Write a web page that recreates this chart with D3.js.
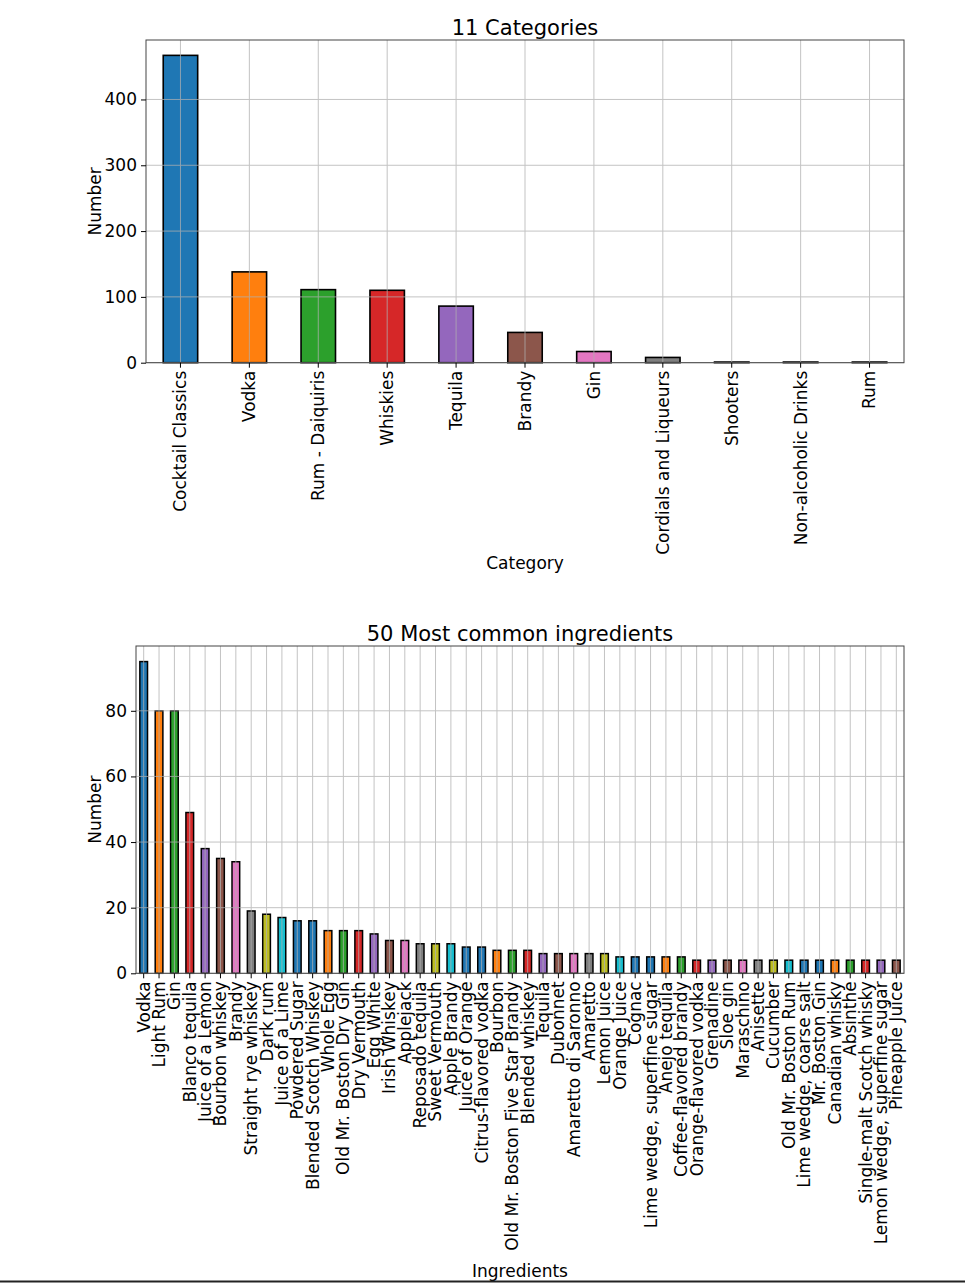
<!DOCTYPE html>
<html lang="en">
<head>
<meta charset="UTF-8">
<title>Cocktail categories and ingredients</title>
<script src="https://d3js.org/d3.v7.min.js"></script>
<style>
  body { margin: 0; background: white; }
  text { font-family: "DejaVu Sans", sans-serif; fill: black; }
</style>
</head>
<body>
<div id="chart"></div>
<script>
// data
var categories = ["Cocktail Classics", "Vodka", "Rum - Daiquiris", "Whiskies", "Tequila", "Brandy",
                  "Gin", "Cordials and Liqueurs", "Shooters", "Non-alcoholic Drinks", "Rum"];
var categoryCounts = [467, 138, 111, 110, 86, 46, 17, 8, 1, 1, 1];
var categoryTicks = [0, 100, 200, 300, 400];

var ingredients = ["Vodka", "Light Rum", "Gin", "Blanco tequila", "Juice of a Lemon", "Bourbon whiskey",
  "Brandy", "Straight rye whiskey", "Dark rum", "Juice of a Lime", "Powdered Sugar", "Blended Scotch Whiskey",
  "Whole Egg", "Old Mr. Boston Dry Gin", "Dry Vermouth", "Egg White", "Irish Whiskey", "Applejack",
  "Reposado tequila", "Sweet Vermouth", "Apple Brandy", "Juice of Orange", "Citrus-flavored vodka", "Bourbon",
  "Old Mr. Boston Five Star Brandy", "Blended whiskey", "Tequila", "Dubonnet", "Amaretto di Saronno", "Amaretto",
  "Lemon Juice", "Orange Juice", "Cognac", "Lime wedge, superfine sugar", "Anejo tequila", "Coffee-flavored brandy",
  "Orange-flavored vodka", "Grenadine", "Sloe gin", "Maraschino", "Anisette", "Cucumber", "Old Mr. Boston Rum",
  "Lime wedge, coarse salt", "Mr. Boston Gin", "Canadian whisky", "Absinthe", "Single-malt Scotch whisky",
  "Lemon wedge, superfine sugar", "Pineapple Juice"];
var ingredientCounts = [95, 80, 80, 49, 38, 35, 34, 19, 18, 17, 16, 16, 13, 13, 13, 12, 10, 10, 9, 9,
  9, 8, 8, 7, 7, 7, 6, 6, 6, 6, 6, 5, 5, 5, 5, 5, 4, 4, 4, 4,
  4, 4, 4, 4, 4, 4, 4, 4, 4, 4];
var ingredientTicks = [0, 20, 40, 60, 80];

// 11 colour cycle (the bars repeat every 11)
var palette = ["#1f77b4", "#ff7f0e", "#2ca02c", "#d62728", "#9467bd", "#8c564b",
               "#e377c2", "#7f7f7f", "#bcbd22", "#17becf", "#1f77b4"];

var svg = d3.select("#chart").append("svg").attr("width", 965).attr("height", 1283);

drawBarChart({
  names: categories, values: categoryCounts, ticks: categoryTicks,
  left: 146, right: 904, top: 40, bottom: 362.7,
  title: "11 Categories", titleY: 35,
  xlabel: "Category", xlabelY: 569, ylabelX: 101, stroke: 1.6
});

drawBarChart({
  names: ingredients, values: ingredientCounts, ticks: ingredientTicks,
  left: 136, right: 904, top: 646, bottom: 973.3,
  title: "50 Most common ingredients", titleY: 641,
  xlabel: "Ingredients", xlabelY: 1277, ylabelX: 101, stroke: 1.5
});

// dark edge along the bottom of the picture
svg.append("line").attr("x1", 0).attr("x2", 965).attr("y1", 1281.5).attr("y2", 1281.5)
  .attr("stroke", "#222").attr("stroke-width", 2);

function drawBarChart(c) {
  var g = svg.append("g");

  var x = d3.scaleBand().domain(c.names).range([c.left, c.right])
    .paddingInner(0.5).paddingOuter(0.25);
  var y = d3.scaleLinear().domain([0, d3.max(c.values) * 1.05]).range([c.bottom, c.top]);

  // bars
  g.selectAll("rect.bar").data(c.values).enter().append("rect")
    .attr("class", "bar")
    .attr("x", function(d, i) { return x(c.names[i]); })
    .attr("y", function(d) { return y(d); })
    .attr("width", x.bandwidth())
    .attr("height", function(d) { return c.bottom - y(d); })
    .attr("fill", function(d, i) { return palette[i % palette.length]; })
    .attr("stroke", "black")
    .attr("stroke-width", c.stroke);

  // grid lines sit on top of the bars, like matplotlib
  var grid = g.append("g").attr("stroke", "#b0b0b0").attr("stroke-width", 1).attr("opacity", 0.75);
  grid.selectAll("line.v").data(c.names).enter().append("line")
    .attr("x1", function(d) { return x(d) + x.bandwidth() / 2; })
    .attr("x2", function(d) { return x(d) + x.bandwidth() / 2; })
    .attr("y1", c.top).attr("y2", c.bottom);
  grid.selectAll("line.h").data(c.ticks).enter().append("line")
    .attr("x1", c.left).attr("x2", c.right)
    .attr("y1", function(d) { return y(d); })
    .attr("y2", function(d) { return y(d); });

  // frame
  g.append("rect").attr("x", c.left).attr("y", c.top)
    .attr("width", c.right - c.left).attr("height", c.bottom - c.top)
    .attr("fill", "none").attr("stroke", "#444").attr("stroke-width", 1);

  // y axis
  var yAxis = g.append("g").attr("transform", "translate(" + c.left + ",0)")
    .call(d3.axisLeft(y).tickValues(c.ticks).tickSize(5).tickPadding(4));
  yAxis.select(".domain").remove();
  yAxis.selectAll("text").style("font-size", "17px").style("font-family", "DejaVu Sans");

  // x axis, labels turned upright
  var xAxis = g.append("g").attr("transform", "translate(0," + c.bottom + ")")
    .call(d3.axisBottom(x).tickSize(5).tickPadding(3));
  xAxis.select(".domain").remove();
  xAxis.selectAll("text")
    .attr("transform", "rotate(-90)")
    .attr("text-anchor", "end")
    .attr("x", -8).attr("y", 0).attr("dy", "0.35em")
    .style("font-size", "17px").style("font-family", "DejaVu Sans");

  // titles
  g.append("text").attr("x", (c.left + c.right) / 2).attr("y", c.titleY)
    .attr("text-anchor", "middle").style("font-size", "21px").text(c.title);
  g.append("text").attr("x", (c.left + c.right) / 2).attr("y", c.xlabelY)
    .attr("text-anchor", "middle").style("font-size", "17px").text(c.xlabel);
  g.append("text")
    .attr("transform", "translate(" + c.ylabelX + "," + ((c.top + c.bottom) / 2) + ") rotate(-90)")
    .attr("text-anchor", "middle").style("font-size", "17px").text("Number");
}
</script>
</body>
</html>
